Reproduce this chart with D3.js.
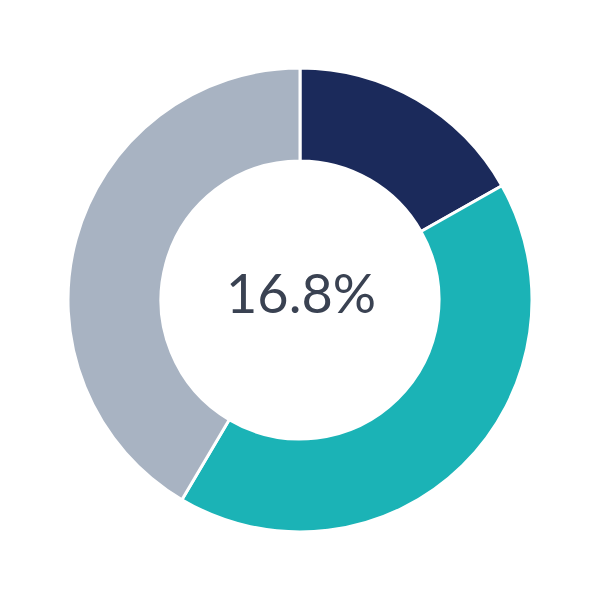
<!DOCTYPE html>
<html>
<head>
<meta charset="utf-8">
<script src="https://cdn.jsdelivr.net/npm/d3@7"></script>
<style>
  body { margin: 0; background: #fff; }
</style>
</head>
<body>
<div id="chart"></div>
<script>
var svgWidth = 600;
var svgHeight = 600;

// slice data (percent of total)
var categories = ["A", "B", "C"];
var values = [16.8, 41.7, 41.5];
var colors = ["#1b2a5b", "#1bb3b6", "#a8b3c2"];
var centerLabel = "16.8%";

var outerRadius = 232;
var innerRadius = 139;

var svg = d3.select("#chart")
  .append("svg")
  .attr("width", svgWidth)
  .attr("height", svgHeight);

var chartGroup = svg.append("g")
  .attr("transform", `translate(${svgWidth / 2}, ${svgHeight / 2})`);

var pie = d3.pie()
  .sort(null)
  .value(d => d.value);

var arc = d3.arc()
  .innerRadius(innerRadius)
  .outerRadius(outerRadius);

var data = categories.map((c, i) => ({ name: c, value: values[i], color: colors[i] }));

chartGroup.selectAll("path")
  .data(pie(data))
  .enter()
  .append("path")
  .attr("d", arc)
  .attr("fill", d => d.data.color)
  .attr("stroke", "#fff")
  .attr("stroke-width", 3);

chartGroup.append("text")
  .attr("x", 1)
  .attr("y", 13)
  .attr("text-anchor", "middle")
  .attr("font-family", "Lato, sans-serif")
  .attr("font-size", "54px")
  .attr("fill", "#3a4252")
  .text(centerLabel);
</script>
</body>
</html>
